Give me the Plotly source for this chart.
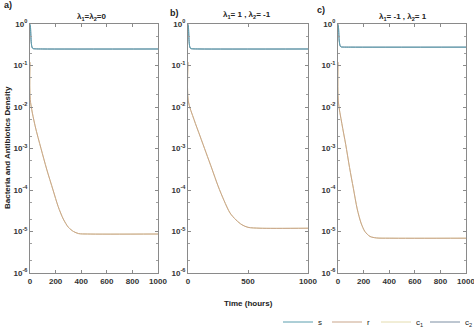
import plotly.graph_objects as go

# ---- data ----
panel_labels = ["a)", "b)", "c)"]
panel_titles = ["λ<sub>1</sub>=λ<sub>2</sub>=0",
                "λ<sub>1</sub>= 1 , λ<sub>2</sub>= -1",
                "λ<sub>1</sub>= -1 , λ<sub>2</sub>= 1"]
series_names = ["s", "r", "c<sub>1</sub>", "c<sub>2</sub>"]

# s (sensitive bacteria): fast drop from 1 to a plateau
s_t = [0, 3, 6, 9, 13, 18, 25, 40, 100, 1000]
s_a = [0.98, 0.9, 0.6, 0.38, 0.3, 0.265, 0.255, 0.252, 0.25, 0.25]
s_b = [0.98, 0.9, 0.6, 0.38, 0.3, 0.265, 0.255, 0.252, 0.25, 0.25]
s_c = [0.98, 0.9, 0.62, 0.41, 0.33, 0.29, 0.28, 0.278, 0.277, 0.277]

# c2: nearly identical to s
c2_a = s_a
c2_b = s_b
c2_c = s_c

# r : fast initial drop then slow exponential decay to a plateau
r_t_a = [0, 2, 40, 86, 130, 180, 220, 260, 300, 340, 380, 450, 1000]
r_a = [1.2e-1, 1.5e-2, 3.5e-3, 1.0e-3, 3.2e-4, 1.0e-4, 4.0e-5, 2.0e-5, 1.26e-5, 1.0e-5, 8.9e-6, 8.7e-6, 8.7e-6]
r_t_b = [0, 2, 50, 100, 150, 200, 250, 300, 350, 400, 450, 500, 600, 1000]
r_b = [1.2e-1, 1.4e-2, 5.0e-3, 2.0e-3, 8.0e-4, 3.2e-4, 1.26e-4, 5.6e-5, 2.8e-5, 1.9e-5, 1.45e-5, 1.26e-5, 1.2e-5, 1.2e-5]
r_t_c = [0, 2, 30, 60, 90, 120, 150, 180, 210, 250, 300, 400, 1000]
r_c = [1.2e-1, 1.4e-2, 4.0e-3, 1.26e-3, 3.5e-4, 1.1e-4, 3.5e-5, 1.6e-5, 1.0e-5, 7.6e-6, 7.0e-6, 6.9e-6, 6.9e-6]

# c1: follows r closely (overlapping curve)
c1_a = r_a
c1_b = r_b
c1_c = r_c

y_tickvals = [1e0, 1e-1, 1e-2, 1e-3, 1e-4, 1e-5, 1e-6]
y_ticktext = ["<b>10<sup>0</sup></b>", "<b>10<sup>-1</sup></b>", "<b>10<sup>-2</sup></b>", "<b>10<sup>-3</sup></b>",
              "<b>10<sup>-4</sup></b>", "<b>10<sup>-5</sup></b>", "<b>10<sup>-6</sup></b>"]
x_ticks_ac = [0, 200, 400, 600, 800, 1000]
x_ticks_b = [0, 500, 1000]

col_s = "#5a9eae"
col_r = "#c9a58a"
col_c1 = "#e4dcae"
col_c2 = "#7d8ea3"

W, H = 474, 333
FONT = "Liberation Sans"

fig = go.Figure()

panels = [
    (s_t, s_a, c2_a, r_t_a, r_a, c1_a),
    (s_t, s_b, c2_b, r_t_b, r_b, c1_b),
    (s_t, s_c, c2_c, r_t_c, r_c, c1_c),
]
xdom_px = [(30, 158), (188, 308), (338, 466)]
ytop, ybot = 24, 273

for i, (st, sv, c2v, rt, rv, c1v) in enumerate(panels):
    xa = "x" if i == 0 else f"x{i+1}"
    ya = "y" if i == 0 else f"y{i+1}"
    show = (i == 2)
    fig.add_trace(go.Scatter(x=st, y=c2v, mode="lines", line=dict(color=col_c2, width=1, shape="spline", smoothing=0.8),
                             name=series_names[3], legendrank=4, showlegend=show, xaxis=xa, yaxis=ya))
    fig.add_trace(go.Scatter(x=rt, y=c1v, mode="lines",
                             line=dict(color=col_c1, width=1, shape="spline", smoothing=0.8),
                             name=series_names[2], legendrank=3, showlegend=show, xaxis=xa, yaxis=ya))
    fig.add_trace(go.Scatter(x=rt, y=rv, mode="lines", line=dict(color=col_r, width=1, shape="spline", smoothing=0.8),
                             name=series_names[1], legendrank=2, showlegend=show, xaxis=xa, yaxis=ya))
    fig.add_trace(go.Scatter(x=st, y=sv, mode="lines", line=dict(color=col_s, width=1, shape="spline", smoothing=0.8),
                             name=series_names[0], legendrank=1, showlegend=show, xaxis=xa, yaxis=ya))

axis_common = dict(showline=True, linecolor="#8a8a8a", linewidth=1, mirror="ticks", ticks="inside",
                   tickcolor="#8a8a8a", ticklen=3, showgrid=False, zeroline=False,
                   ticklabeloverflow="allow",
                   tickfont=dict(family=FONT, size=8, color="#333333"))

layout = dict(width=W, height=H, margin=dict(l=0, r=0, t=0, b=0, autoexpand=False),
              paper_bgcolor="white", plot_bgcolor="white", font=dict(family=FONT, color="#222222"))
for i in range(3):
    xk = "xaxis" if i == 0 else f"xaxis{i+1}"
    yk = "yaxis" if i == 0 else f"yaxis{i+1}"
    x0, x1 = xdom_px[i]
    xt = x_ticks_b if i == 1 else x_ticks_ac
    xa = dict(axis_common)
    xa.update(domain=[x0 / W, x1 / W], range=[0, 1000], tickvals=xt,
              ticktext=[f"<b>{v}</b>" for v in xt],
              anchor=("y" if i == 0 else f"y{i+1}"))
    ya = dict(axis_common)
    ya.update(domain=[1 - ybot / H, 1 - ytop / H], type="log", range=[-6, 0],
              tickvals=y_tickvals, ticktext=y_ticktext,
              minor=dict(ticks="inside", ticklen=2, tickcolor="#a0a0a0", showgrid=False),
              anchor=("x" if i == 0 else f"x{i+1}"))
    layout[xk] = xa
    layout[yk] = ya

fig.update_layout(**layout)

ann = []
title_pos = [(92, 17), (247, 15), (403, 17)]
label_pos = [(2, 5), (168, 13), (315, 10)]
for i in range(3):
    ann.append(dict(text=f"<b>{panel_titles[i]}</b>", x=title_pos[i][0] / W, y=1 - title_pos[i][1] / H,
                    xref="paper", yref="paper", showarrow=False, xanchor="center", yanchor="middle",
                    font=dict(family=FONT, size=8, color="#222222")))
    ann.append(dict(text=f"<b>{panel_labels[i]}</b>", x=label_pos[i][0] / W, y=1 - label_pos[i][1] / H,
                    xref="paper", yref="paper", showarrow=False, xanchor="left", yanchor="middle",
                    font=dict(family=FONT, size=9, color="#222222")))
ann.append(dict(text="<b>Bacteria and Antibiotics Density</b>", x=7 / W, y=1 - 148 / H,
                xref="paper", yref="paper", showarrow=False, textangle=-90,
                xanchor="center", yanchor="middle", font=dict(family=FONT, size=8, color="#222222")))
ann.append(dict(text="<b>Time (hours)</b>", x=248 / W, y=1 - 303 / H,
                xref="paper", yref="paper", showarrow=False,
                xanchor="center", yanchor="middle", font=dict(family=FONT, size=8, color="#222222")))
fig.update_layout(annotations=ann)

fig.update_layout(legend=dict(orientation="h", x=1.0, y=1 - 322 / H, xanchor="right", yanchor="middle",
                              font=dict(family=FONT, size=8, color="#222222"), bgcolor="rgba(0,0,0,0)",
                              itemwidth=30, entrywidth=4, entrywidthmode="pixels",
                              tracegroupgap=0, traceorder="normal"))

fig.write_html("out.html")
